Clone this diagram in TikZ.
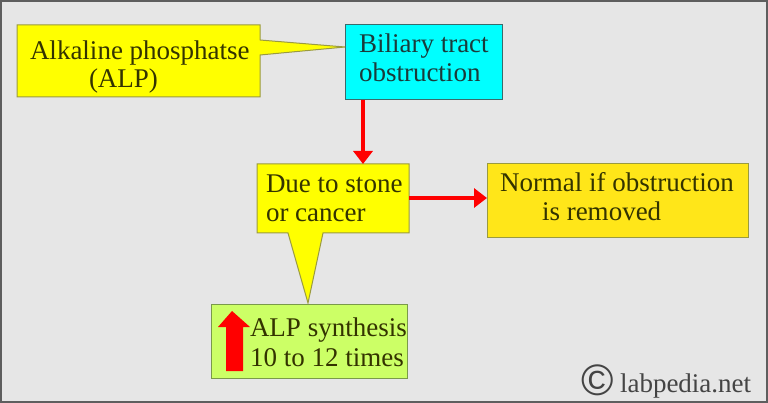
\documentclass[tikz,border=0pt]{standalone}
\usepackage{fontspec}
\setmainfont{Liberation Serif}
\newfontfamily\serifc{Liberation Serif}
\newfontfamily\sansc{Liberation Sans}
\usetikzlibrary{arrows.meta,calc}
\definecolor{bgc}{HTML}{E6E6E6}
\definecolor{framec}{HTML}{5E5E5E}
\definecolor{yel}{HTML}{FFFF00}
\definecolor{yelb}{HTML}{9A9A40}
\definecolor{gold}{HTML}{FFE619}
\definecolor{cyanc}{HTML}{00FFFF}
\definecolor{cyanb}{HTML}{3A6B6B}
\definecolor{grn}{HTML}{CCFF66}
\definecolor{grnb}{HTML}{7A9A4A}
\definecolor{txtc}{HTML}{333300}
\definecolor{txtcy}{HTML}{1A3B3B}
\definecolor{redc}{HTML}{FF0000}
\definecolor{wm}{HTML}{444444}
\tikzset{
  boxshape/.style={rectangle, inner sep=0pt, outer sep=0pt, line width=1pt},
  txt/.style={inner sep=0pt, outer sep=0pt, anchor=base west, text=txtc, font=\serifc\fontsize{27}{30}\selectfont},
  redarrow/.style={draw=redc, line width=4pt, -{Triangle[width=19pt,length=13pt]}},
}
\begin{document}
\begin{tikzpicture}[x=1pt,y=-1pt]
\useasboundingbox (0,0) rectangle (768,403);
\fill[bgc] (0,0) rectangle (768,403);
\draw[framec, line width=2pt] (1,1) rectangle (767,402);

% boxes
\node[boxshape, minimum width=243pt, minimum height=72pt] (alp) at (138.5,61) {};
\node[boxshape, fill=cyanc, draw=cyanb, minimum width=157pt, minimum height=75pt] (bil) at (423.5,62.5) {};
\node[boxshape, minimum width=152pt, minimum height=69pt] (due) at (333,198.5) {};
\node[boxshape, fill=gold, draw=yelb, minimum width=261pt, minimum height=74pt] (norm) at (617.5,201) {};
\node[boxshape, fill=grn, draw=grnb, minimum width=196pt, minimum height=74pt] (syn) at (309,341) {};

% callout for ALP
\coordinate (alptip) at (bil.west |- 0,47);
\draw[boxshape, fill=yel, draw=yelb]
  (alp.north west) -- (alp.north east) -- ($(alp.north east)+(0,15)$) -- (alptip)
  -- ($(alp.north east)+(0,30)$) -- (alp.south east) -- (alp.south west) -- cycle;

% callout for Due
\coordinate (duetip) at (308,303);
\draw[boxshape, fill=yel, draw=yelb]
  (due.north west) -- (due.north east) -- (due.south east) -- ($(due.south west)+(66,0)$)
  -- (duetip) -- ($(due.south west)+(31,0)$) -- (due.south west) -- cycle;

% texts
\node[txt] (t1) at (30,60) {Alkaline phosphatse};
\node[txt] (t2) at (89,88) {(ALP)};
\node[txt, text=txtcy] (t3) at (359,53) {Biliary tract};
\node[txt, text=txtcy] (t4) at (359,82) {obstruction};
\node[txt] (t5) at (266,193) {Due to stone};
\node[txt] (t6) at (266,222) {or cancer};
\node[txt] (t7) at (500,192) {Normal if obstruction};
\node[txt] (t8) at (542,221) {is removed};
\node[txt] (t9) at (250,336) {ALP synthesis};
\node[txt] (t10) at (250,366) {10 to 12 times};

% red up arrow inside green box
\fill[redc] (232,311) -- (250,327) -- (243,327) -- (243,371) -- (226,371) -- (226,327) -- (218,327) -- cycle;

% connectors
\coordinate (ax) at (363,0);
\coordinate (ay) at (0,198);
\draw[redarrow] (bil.south -| ax) -- (due.north -| ax);
\draw[redarrow] (due.east |- ay) -- (norm.west |- ay);

% watermark
\node[inner sep=0pt, text=wm, font=\sansc\fontsize{44}{44}\selectfont] (copy) at (598,380) {©};
\node[txt, text=wm] (wmt) at (620,392) {labpedia.net};
\end{tikzpicture}
\end{document}
